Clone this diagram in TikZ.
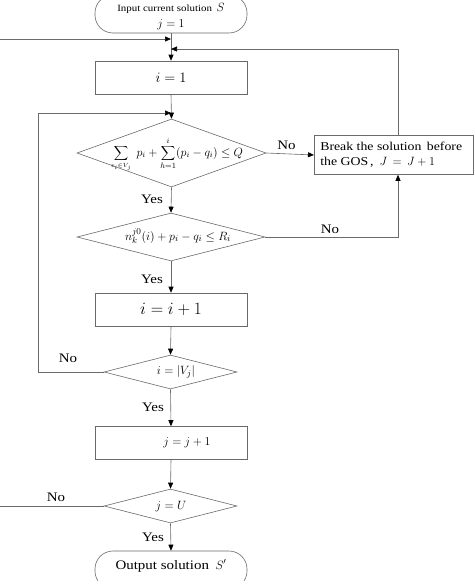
\documentclass[tikz,border=0pt]{standalone}
\usepackage{fontspec}
\setmainfont{Liberation Serif}[FakeStretch=1.15]
\usetikzlibrary{shapes.geometric,arrows.meta}
\definecolor{linec}{HTML}{6A6A6A}
\tikzset{
  box/.style={draw=linec, minimum width=152pt, minimum height=33pt, inner sep=0pt},
  term/.style={draw=linec, rounded corners=18pt, minimum width=152pt, minimum height=38pt, inner sep=0pt},
  dia/.style={draw=linec, diamond, inner sep=0pt},
  txt/.style={inner sep=0pt, font=\fontsize{13}{13}\selectfont},
  arr/.style={draw=linec, -{Triangle[length=6pt,width=5pt,fill=black,color=black]}},
  ln/.style={draw=linec}
}
\begin{document}
\begin{tikzpicture}[x=1pt,y=-1pt, line width=0.6pt]
\useasboundingbox (0,0) rectangle (474,581);
\clip (0,0) rectangle (474,581);
% nodes
\node[term] (start) at (171,14) {};
\node[inner sep=0pt, font=\fontsize{9.5}{9.5}\selectfont] (starttxt) at (171,8) {Input current solution\enspace{\fontsize{13}{13}\selectfont$S$}};
\node[inner sep=0pt, font=\fontsize{13}{13}\selectfont] (startj) at (171,24.5) {$j=1$};
\node[box] (b1) at (171,77.5) {\fontsize{14}{14}\selectfont $i=1$};
\node[dia, minimum width=189pt, minimum height=68pt] (d1) at (171.5,153) {};
\node[inner sep=0pt, font=\fontsize{12}{12}\selectfont] (d1txt) at (177,154) {$\displaystyle\sum_{\scriptscriptstyle v_i\in V_j}\mkern5mu p_i+\sum_{h=1}^{i}(p_i-q_i)\le Q$};
\node[draw=linec, minimum width=159.5pt, minimum height=39pt, inner sep=0pt] (brk) at (394,155) {};
\node[inner sep=0pt, align=left, anchor=west, font=\fontsize{12}{15.5}\selectfont] (brktxt) at (320,154.5) {Break the solution\, before\\the GOS\,,\enspace $J\,=\,J+1$};
\node[dia, minimum width=188pt, minimum height=48pt] (d2) at (171,237) {};
\node[inner sep=0pt, font=\fontsize{13}{13}\selectfont] (d2txt) at (178,236) {$n_k^{j0}(i)+p_i-q_i\le R_i$};
\node[box] (b2) at (171,309.5) {\fontsize{17}{17}\selectfont $i=i+1$};
\node[dia, minimum width=133pt, minimum height=34pt] (d3) at (170.5,372) {};
\node[inner sep=0pt, font=\fontsize{13}{13}\selectfont] (d3txt) at (176,372) {$i=|V_j|$};
\node[box] (b3) at (171,443) {};
\node[inner sep=0pt, font=\fontsize{13}{13}\selectfont] (b3txt) at (187,443) {$j=j+1$};
\node[dia, minimum width=133pt, minimum height=34pt] (d4) at (170.5,506) {};
\node[inner sep=0pt, font=\fontsize{12.5}{12.5}\selectfont] (d4txt) at (171,507) {$j=U$};
\node[term] (out) at (171,570) {};
\node[inner sep=0pt, font=\fontsize{13}{13}\selectfont] (outtxt) at (171,566) {Output solution\enspace $S'$};
% coordinates
\coordinate (lin) at (0,39);
\coordinate (m1) at (171,39);
\coordinate (rx) at (398,49);
\coordinate (m2) at (171,49);
\coordinate (lx) at (38,113);
\coordinate (m3) at (171,113);
\coordinate (lout) at (0,506);
% connectors
\draw[arr] (start.south) -- (b1.north);
\draw[arr] (lin) -- (m1);
\draw[arr] (brk.north -| rx) -- (rx) -- (m2);
\draw[arr] (b1.south) -- (d1.north);
\draw[arr] (d3.west) -| (lx) -- (m3);
\draw[arr] (d1.east) -- (brk.west);
\draw[arr] (d1.south) -- (d2.north);
\draw[arr] (d2.east) -| (brk.south -| rx);
\draw[arr] (d2.south) -- (b2.north);
\draw[arr] (b2.south) -- (d3.north);
\draw[arr] (d3.south) -- (b3.north);
\draw[arr] (b3.south) -- (d4.north);
\draw[ln] (d4.west) -- (lout);
\draw[arr] (d4.south) -- (out.north);
% labels
\node[txt] (no1) at (286.5,145) {No};
\node[txt] (yes1) at (152,199) {Yes};
\node[txt] (no2) at (330,229) {No};
\node[txt] (yes2) at (152,279) {Yes};
\node[txt] (no3) at (68,358) {No};
\node[txt] (yes3) at (153,407) {Yes};
\node[txt] (no4) at (56,497) {No};
\node[txt] (yes4) at (153,537) {Yes};
\end{tikzpicture}
\end{document}
